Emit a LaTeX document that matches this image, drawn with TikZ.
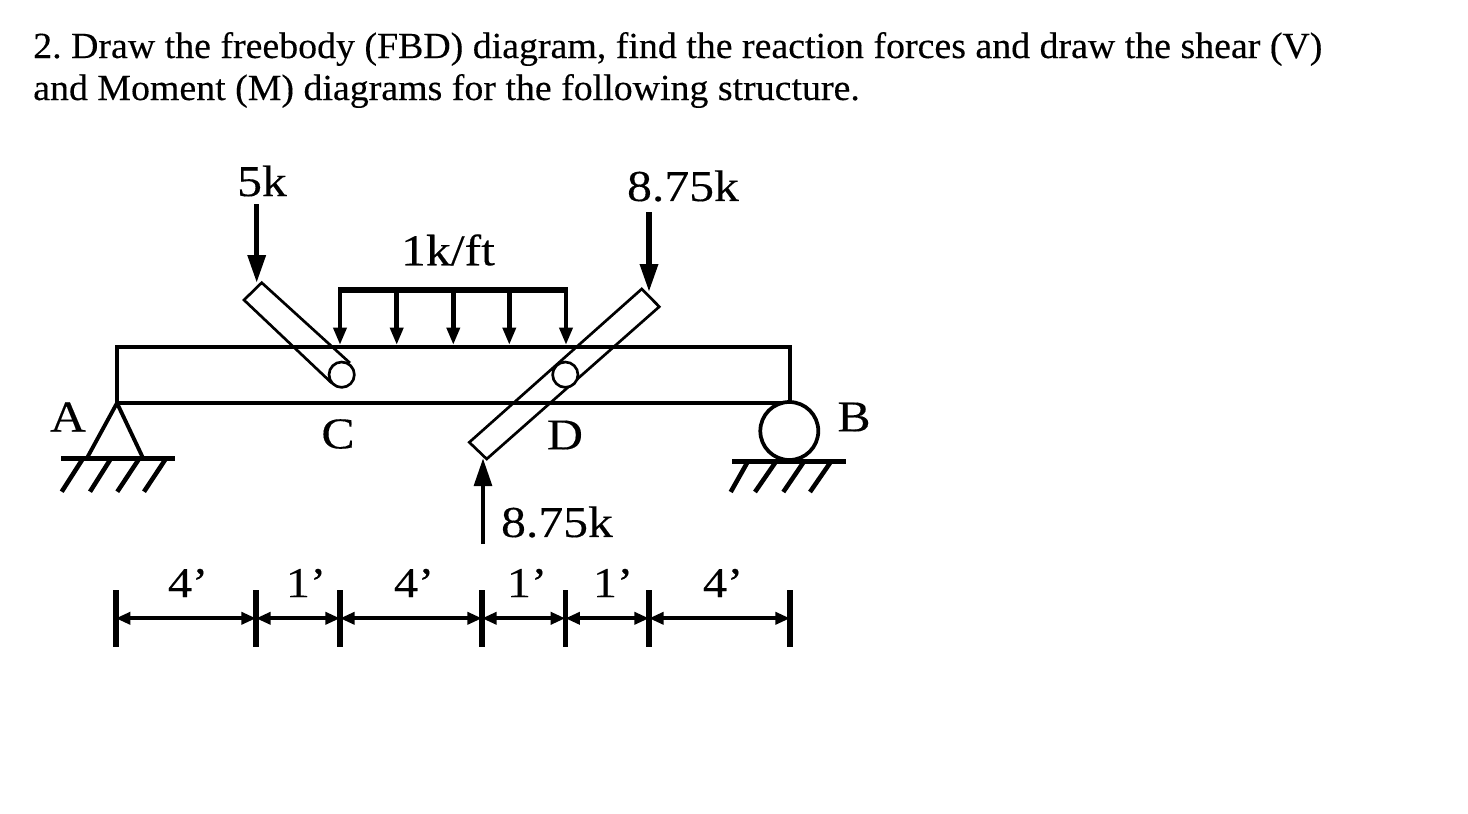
\documentclass[tikz,border=0pt]{standalone}
\usepackage{fontspec}
\setmainfont[FakeStretch=1.029,FakeBold=0.25]{Liberation Serif}
\newfontfamily\labfont[FakeStretch=1.13,FakeBold=0.25]{Liberation Serif}
\usetikzlibrary{arrows.meta}
\tikzset{
  title/.style={anchor=base west,inner sep=0pt,font=\fontsize{27.6}{32}\selectfont\frenchspacing},
  lab/.style={anchor=center,inner sep=0pt,font=\labfont\fontsize{33}{38}\selectfont},
  dimlab/.style={anchor=center,inner sep=0pt,font=\labfont\fontsize{32}{36}\selectfont},
  bigarrow/.style={line width=4pt,-{Triangle[length=21pt,width=13pt]}},
  uparrow/.style={line width=3.6pt,-{Triangle[length=21pt,width=13pt]}},
  udl/.style={line width=3.5pt,-{Triangle[length=13pt,width=9.5pt]}},
  loadbar/.style={line width=4pt,line cap=butt},
  beamline/.style={line width=3pt,line cap=rect},
  member/.style={line width=2pt,line join=miter},
  pinc/.style={circle,draw,fill=white,line width=2pt,minimum size=19pt,inner sep=0pt},
  roller/.style={circle,draw,fill=white,line width=2.8pt,minimum size=43.5pt,inner sep=0pt},
  ground/.style={line width=3.6pt},
  hatch/.style={line width=3.4pt},
  tick/.style={line width=4.2pt},
  dimline/.style={line width=3.2pt,{Triangle[length=11pt,width=9pt]}-{Triangle[length=11pt,width=9pt]}},
}
\begin{document}
\begin{tikzpicture}[x=0.75pt,y=-0.75pt]
\useasboundingbox (0,0) rectangle (1468,814);
\fill[white] (0,0) rectangle (1468,814);
% title
\node[title] (t1) at (33,58) {2. Draw the freebody (FBD) diagram, find the reaction forces and draw the shear (V)};
\node[title] (t2) at (33,100) {and Moment (M) diagrams for the following structure.};
% beam
\coordinate (bTL) at (117,347);
\coordinate (bTR) at (790,347);
\coordinate (bBL) at (117,403);
\coordinate (bBR) at (790,403);
\draw[beamline] (bBL) -- (bTL) -- (bTR) -- (bBR) -- cycle;
% member at C
\coordinate (c1) at (261.7,282.7);
\coordinate (c2) at (244,300);
\coordinate (c3) at (350,363);
\coordinate (c4) at (331.7,383);
\draw[member] (c3) -- (c1) -- (c2) -- (c4);
\node[pinc] (pinC) at (341.7,374.7) {};
% member at D
\coordinate (d1) at (641.7,289);
\coordinate (d2) at (659.3,306.7);
\coordinate (d3) at (486.7,459);
\coordinate (d4) at (469.3,442.3);
\draw[member] (d1) -- (d2) -- (d3) -- (d4) -- cycle;
\node[pinc] (pinD) at (565.3,374.7) {};
% point loads
\coordinate (f1s) at (256.7,204);
\coordinate (f1e) at (256.7,283);
\draw[bigarrow] (f1s) -- (f1e);
\coordinate (f2s) at (649,212);
\coordinate (f2e) at (649,292);
\draw[bigarrow] (f2s) -- (f2e);
\coordinate (f3s) at (483,544);
\coordinate (f3e) at (483,458);
\draw[uparrow] (f3s) -- (f3e);
% distributed load
\coordinate (q1) at (338,290);
\coordinate (q2) at (396.7,290);
\coordinate (q3) at (453.3,290);
\coordinate (q4) at (509.3,290);
\coordinate (q5) at (568,290);
\coordinate (p1) at (340,345);
\coordinate (p2) at (396.7,345);
\coordinate (p3) at (453.3,345);
\coordinate (p4) at (509.3,345);
\coordinate (p5) at (566,345);
\coordinate (r1) at (340,290);
\coordinate (r2) at (396.7,290);
\coordinate (r3) at (453.3,290);
\coordinate (r4) at (509.3,290);
\coordinate (r5) at (566,290);
\draw[loadbar] (q1) -- (q5);
\foreach \i in {1,...,5} \draw[udl] (r\i) -- (p\i);
% support A
\coordinate (aTop) at (117,403);
\coordinate (aL) at (87,458);
\coordinate (aR) at (143,458);
\coordinate (aG1) at (61,458.5);
\coordinate (aG2) at (175,458.5);
\draw[line width=2.9pt,line join=miter] (aL) -- (aTop) -- (aR);
\draw[ground] (aG1) -- (aG2);
\foreach \a/\b [count=\n] in {82/61.7,110/90,138.3/117.3,165/144}{
  \coordinate (ah\n) at (\a,460);
  \coordinate (ak\n) at (\b,491.7);
  \draw[hatch] (ah\n) -- (ak\n);
}
% support B
\node[roller] (rollB) at (789.3,431) {};
\coordinate (bG1) at (732,461.7);
\coordinate (bG2) at (846,461.7);
\draw[ground] (bG1) -- (bG2);
\foreach \a/\b [count=\n] in {747/730.7,775/755,803/783.3,830/810}{
  \coordinate (bh\n) at (\a,463);
  \coordinate (bk\n) at (\b,492);
  \draw[hatch] (bh\n) -- (bk\n);
}
% dimensions
\foreach \x [count=\n] in {115.7,256,340,482,565.3,649,790}{
  \coordinate (tt\n) at (\x,590);
  \coordinate (tb\n) at (\x,647);
  \coordinate (tm\n) at (\x,618.3);
  \draw[tick] (tt\n) -- (tb\n);
}
\foreach \n [evaluate=\n as \m using int(\n+1)] in {1,...,6}
  \draw[dimline] (tm\n) -- (tm\m);
% labels
\node[lab] (l5k) at (262,181) {5k};
\node[lab] (l875a) at (683,186) {8.75k};
\node[lab] (lq) at (448,250) {1k/ft};
\node[lab] (lA) at (68,417) {A};
\node[lab] (lB) at (854,417) {B};
\node[lab] (lC) at (338,434) {C};
\node[lab] (lD) at (565,435) {D};
\node[lab] (l875b) at (557,522) {8.75k};
\node[dimlab] (d1l) at (188,583) {4’};
\node[dimlab] (d2l) at (306,583) {1’};
\node[dimlab] (d3l) at (414,583) {4’};
\node[dimlab] (d4l) at (527,583) {1’};
\node[dimlab] (d5l) at (613,583) {1’};
\node[dimlab] (d6l) at (723,583) {4’};
\end{tikzpicture}
\end{document}
